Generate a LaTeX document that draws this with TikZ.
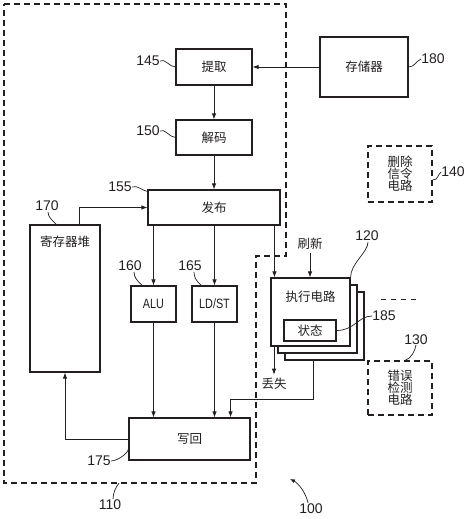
\documentclass[tikz,border=0pt]{standalone}
\usepackage{fontspec}
\setmainfont{Liberation Sans}
\newfontfamily\cjkfont{Noto Sans CJK SC}
\newfontfamily\narrowfont{Liberation Sans}[FakeStretch=0.8]
\usepackage{tikz}
\usetikzlibrary{arrows.meta,calc}
\definecolor{ink}{HTML}{231F20}
\tikzset{
  box/.style={draw=ink, line width=1.1pt, fill=white, inner sep=0pt},
  dbox/.style={draw=ink, line width=1.1pt, dash pattern=on 6pt off 4pt, inner sep=0pt},
  zh/.style={text=ink, font=\cjkfont\fontsize{12.5}{12}\selectfont, align=center},
  lat/.style={text=ink, font=\narrowfont\fontsize{13.5}{13.5}\selectfont},
  num/.style={text=ink, font=\fontsize{14}{14}\selectfont, inner sep=0pt},
  arr/.style={draw=ink, line width=0.9pt, -{Latex[length=6pt,width=4.5pt]}},
  lead/.style={draw=ink, line width=0.7pt}
}

\begin{document}
\begin{tikzpicture}[x=1pt,y=-1pt]
\useasboundingbox (0,0) rectangle (474,519);
% outline 110
\draw[ink, line width=1.1pt, dash pattern=on 6pt off 4pt]
  (4,4) -- (286,4) -- (286,256) -- (256,256) -- (256,483) -- (4,483) -- cycle;

% pipeline
\node[box, zh, minimum width=76pt, minimum height=36pt] (fetch) at (214,67) {提取};
\node[box, zh, minimum width=88pt, minimum height=60pt] (mem) at (364,67) {存储器};
\node[box, zh, minimum width=76pt, minimum height=35pt] (decode) at (214,137.5) {解码};
\node[box, zh, minimum width=132pt, minimum height=35pt] (issue) at (214,207.5) {发布};
\node[box, minimum width=70pt, minimum height=147pt,
  label={[zh, anchor=center, yshift=-17pt]north:寄存器堆}] (regfile) at (65,298.5) {};
\node[box, lat, minimum width=45pt, minimum height=36pt] (alu) at (153.5,304) {ALU};
\node[box, lat, minimum width=45pt, minimum height=36pt] (ldst) at (214.5,304) {LD/ST};
\node[box, zh, minimum width=121pt, minimum height=42pt] (wb) at (189.5,439) {写回};

% execution circuits, stacked
\node[box, minimum width=79pt, minimum height=68pt] (ex3) at (324.5,326) {};
\node[box, minimum width=79pt, minimum height=68pt] (ex2) at (317.5,319) {};
\node[box, minimum width=79pt, minimum height=68pt,
  label={[zh, anchor=center, yshift=-19pt]north:执行电路}] (ex1) at (310.5,312) {};
\node[box, zh, minimum width=52pt, minimum height=21pt] (state) at (310,330.5) {状态};
\draw[ink, line width=1pt, dash pattern=on 5pt off 5pt] (381,299) -- (419,299);

% side circuits
\node[dbox, zh, minimum width=64pt, minimum height=56pt] (del) at (400,174) {删除\\信令\\电路};
\node[dbox, zh, minimum width=64pt, minimum height=54pt] (err) at (400,388) {错误\\检测\\电路};

\node[zh] (refresh) at (310,244) {刷新};
\node[zh] (lost) at (274,384) {丢失};

% connectors
\draw[arr] (mem.west) -- (fetch.east);
\draw[arr] (fetch.south) -- (decode.north);
\draw[arr] (decode.south) -- (issue.north);
\draw[arr] ($(regfile.north west)+(50,0)$) |- (issue.west);
\draw[arr] (issue.south -| alu.north) -- (alu.north);
\draw[arr] (issue.south -| ldst.north) -- (ldst.north);
\coordinate (exin) at ($(ex1.north west)+(4,0)$);
\draw[arr] (issue.south -| exin) -- (exin);
\draw[arr] (refresh.south) -- (refresh.south |- ex1.north);
\draw[arr] (ex1.south -| lost) -- (lost.north);
\draw[arr] (alu.south) -- (alu.south |- wb.north);
\draw[arr] (ldst.south) -- (ldst.south |- wb.north);
\coordinate (wbin) at ($(wb.north east)+(-20,0)$);
\draw[arr] ($(ex3.south)+(-11,0)$) |- ($(wbin)+(0,-18)$) -- (wbin);
\draw[arr] (wb.west) -| (regfile.south);

% reference numerals
\node[num] (n145) at (148,61) {145};
\draw[lead] (n145.east) .. controls +(5,-3) and +(-6,0) .. (fetch.west);
\node[num] (n180) at (433,59) {180};
\draw[lead] (mem.east) .. controls +(6,0) and +(-5,2) .. (n180.west);
\node[num] (n150) at (148,131) {150};
\draw[lead] (n150.east) .. controls +(5,-3) and +(-6,0) .. (decode.west);
\node[num] (n155) at (120,187) {155};
\draw[lead] (n155.east) .. controls +(6,-2) and +(-6,-1) .. ($(issue.north west)+(0,2)$);
\node[num] (n170) at (47,206) {170};
\draw[lead] ($(n170.south)+(1,1)$) .. controls +(0,5) and +(-4,-4) .. ($(regfile.north west)+(27,0)$);
\node[num] (n160) at (130,266) {160};
\draw[lead] ($(n160.south)+(4,1)$) .. controls +(0,5) and +(-5,-4) .. ($(alu.north west)+(12,0)$);
\node[num] (n165) at (190,266) {165};
\draw[lead] ($(n165.south)+(4,1)$) .. controls +(0,5) and +(-5,-4) .. ($(ldst.north west)+(10,0)$);
\node[num] (n120) at (367,236) {120};
\draw[lead] ($(n120.south)+(1,1)$) .. controls +(0,10) and +(0,-14) .. (ex1.north east);
\node[num] (n185) at (384,316) {185};
\draw[lead] (state.east) .. controls +(18,0) and +(-14,0) .. (n185.west);
\node[num] (n130) at (416,340) {130};
\draw[lead] (n130.south) .. controls +(-1,6) and +(6,-2) .. ($(err.north)+(5,0)$);
\node[num] (n140) at (453,172) {140};
\draw[lead] ($(del.east)+(0,6)$) .. controls +(6,0) and +(-4,3) .. (n140.west);
\node[num] (n175) at (99,461) {175};
\draw[lead] (n175.east) .. controls +(6,0) and +(0,5) .. ($(wb.south west)+(0,-12)$);
\node[num] (n110) at (110,505) {110};
\coordinate (c110) at (119,483);
\draw[lead] ($(n110.north)+(3,-1)$) .. controls +(0,-6) and +(-3,4) .. (c110);
\node[num] (n100) at (311,509) {100};
\coordinate (c100) at (290,479);
\draw[lead, -{Latex[length=5pt,width=4pt]}] ($(n100.north)+(-3,-1)$) .. controls +(-2,-10) and +(8,4) .. (c100);
\end{tikzpicture}
\end{document}
